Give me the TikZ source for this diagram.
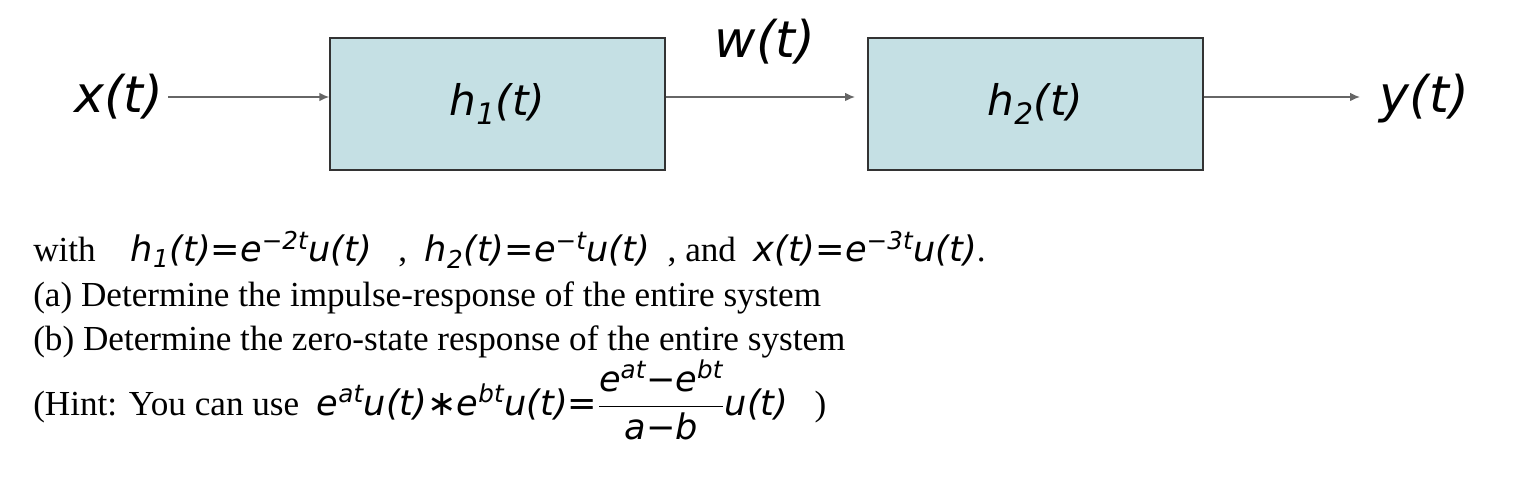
\documentclass[tikz,border=0pt]{standalone}
\usepackage{fontspec}
\usepackage{amsmath}
\setmainfont{Liberation Serif}
\newfontfamily\mf{DejaVu Sans}
\usetikzlibrary{arrows.meta}
\definecolor{boxc}{RGB}{197,224,228}
\newcommand{\mi}[1]{\text{\mf\itshape #1}}
\begin{document}
\begin{tikzpicture}[x=0.025cm,y=-0.025cm,
  blk/.style={draw=black!80,fill=boxc,line width=1pt,minimum width=335*0.025cm,minimum height=132*0.025cm,inner sep=0pt},
  sig/.style={font=\fontsize{36}{40}\selectfont\mf\itshape,inner sep=3pt},
  con/.style={draw=black!60,line width=1pt,-{Latex[length=7pt,width=6pt]}},
  txt/.style={anchor=base west,inner sep=0pt,font=\fontsize{25}{29}\selectfont}]
\useasboundingbox (0,0) rectangle (1526,478);
\node[blk] (b1) at (497.5,104) {\fontsize{30}{34}\selectfont\mi{h}$_{\mi{1}}$\mi{(t)}};
\node[blk] (b2) at (1035.5,104) {\fontsize{30}{34}\selectfont\mi{h}$_{\mi{2}}$\mi{(t)}};
\node[sig,anchor=east] (x) at (168,97) {x(t)};
\node[sig] (w) at (765,42) {w(t)};
\node[sig,anchor=west] (y) at (1375,99) {y(t)};
\draw[con] (x.east) -- (b1.west |- x.east);
\draw[con] (b1.east |- 0,97) -- (855,97);
\draw[con] (b2.east |- 0,97) -- (1360,97);
\node[txt] (l1) at (33,262) {with\quad \mi{h}$_{\mi{1}}$\mi{(t)=e}$^{\mi{−2t}}$\mi{u(t)}\ \ \ ,\ \ \mi{h}$_{\mi{2}}$\mi{(t)=e}$^{\mi{−t}}$\mi{u(t)}\ \ , and\ \ \mi{x(t)=e}$^{\mi{−3t}}$\mi{u(t)}.};
\node[txt] (l2) at (33,307) {(a) Determine the\ impulse-response of the entire system};
\node[txt] (l3) at (33,350) {(b) Determine the zero-state response of the entire system};
\node[txt] (l4) at (33,415) {(Hint: You can use\ \ \mi{e}$^{\mi{at}}$\mi{u(t)∗e}$^{\mi{bt}}$\mi{u(t)=}$\dfrac{\mi{e}^{\mi{at}}\mi{−e}^{\mi{bt}}}{\mi{a−b}}$\mi{u(t)}\ \ \ )};
\end{tikzpicture}
\end{document}
